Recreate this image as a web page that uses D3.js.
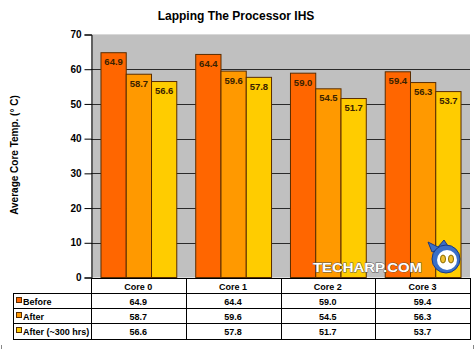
<!DOCTYPE html>
<html><head><meta charset="utf-8">
<script src="https://cdn.jsdelivr.net/npm/d3@7"></script>
<style>body{margin:0;background:#fff}svg{display:block;font-family:"Liberation Sans",Arial,sans-serif}</style>
</head><body>
<svg id="c" width="474" height="349"></svg>
<script>
const categories = ["Core 0", "Core 1", "Core 2", "Core 3"];
const seriesNames = ["Before", "After", "After (~300 hrs)"];
const before = [64.9, 64.4, 59.0, 59.4];
const after = [58.7, 59.6, 54.5, 56.3];
const after300 = [56.6, 57.8, 51.7, 53.7];
const yTicks = [0, 10, 20, 30, 40, 50, 60, 70];
const colors = ["#FF6600", "#FF9900", "#FFCC00"];
const series = [before, after, after300];

const svg = d3.select("#c");
const L = 91, R = 470, T = 34.5, B = 277.5;
const x = d3.scaleBand().domain(categories).range([L, R]).paddingInner(0.2).paddingOuter(0.1);
const xs = d3.scaleBand().domain(seriesNames).range([0, x.bandwidth()]);
const y = d3.scaleLinear().domain([0, 70]).range([B, T]);

// plot background
svg.append("rect").attr("x", L).attr("y", T).attr("width", R - L).attr("height", B - T).attr("fill", "#C0C0C0");
svg.append("line").attr("x1", L).attr("x2", R).attr("y1", T).attr("y2", T).attr("stroke", "#d8d8d8");
// gridlines
svg.append("g").selectAll("line").data(yTicks.filter(t => t > 0 && t < 70)).join("line")
  .attr("x1", L).attr("x2", R).attr("y1", d => Math.round(y(d)) + 0.5).attr("y2", d => Math.round(y(d)) + 0.5)
  .attr("stroke", "#2a2a2a").attr("stroke-width", 1);

// y axis
const yAxis = d3.axisLeft(y).tickValues(yTicks).tickSize(7).tickFormat(d3.format("d"));
const ga = svg.append("g").attr("transform", `translate(${L + 0.5},0)`).call(yAxis);
ga.select(".domain").attr("stroke", "#000");
ga.selectAll(".tick line").attr("stroke", "#000");
ga.selectAll(".tick text").attr("font-size", 10).attr("font-weight", "bold").attr("fill", "#000").attr("x", -10);

// bars
series.forEach((vals, si) => {
  const g = svg.append("g");
  g.selectAll("rect").data(vals).join("rect")
    .attr("x", (d, i) => x(categories[i]) + xs(seriesNames[si]) + 0.5)
    .attr("y", d => y(d) + 0.5)
    .attr("width", xs.bandwidth())
    .attr("height", d => B - y(d) - 0.5)
    .attr("fill", colors[si]).attr("stroke", "#5a2d00").attr("stroke-width", 1);
  g.selectAll("text").data(vals).join("text")
    .attr("x", (d, i) => x(categories[i]) + xs(seriesNames[si]) + xs.bandwidth() / 2 + 0.5)
    .attr("y", d => y(d) + 13)
    .attr("text-anchor", "middle").attr("font-size", 9.5).attr("font-weight", "bold").attr("fill", "#3a2200")
    .text(d => d.toFixed(1));
});

// watermark
const wm = svg.append("g");
wm.append("text").attr("x", 313).attr("y", 272).attr("textLength", 109).attr("lengthAdjust", "spacingAndGlyphs")
  .attr("font-size", 13).attr("font-weight", "bold").attr("fill", "#fff").attr("stroke", "#555").attr("stroke-width", 0.8)
  .attr("paint-order", "stroke").text("TECHARP.COM");
wm.append("path").attr("d", "M432,252 L428,242 L438,247 L444,240 L448,246 Z").attr("fill", "#3a6fc8").attr("stroke", "#1a3a80");
wm.append("circle").attr("cx", 446).attr("cy", 259).attr("r", 14).attr("fill", "#3a6fc8").attr("stroke", "#1a3a80");
wm.append("circle").attr("cx", 447).attr("cy", 260).attr("r", 10).attr("fill", "#fff");
wm.append("ellipse").attr("cx", 443).attr("cy", 259).attr("rx", 2.5).attr("ry", 4).attr("fill", "#f0c030").attr("stroke", "#8a6a00");
wm.append("ellipse").attr("cx", 451).attr("cy", 259).attr("rx", 2.5).attr("ry", 4).attr("fill", "#f0c030").attr("stroke", "#8a6a00");

// table
const rowY = [278, 293, 308, 323, 339];
const tL = 13;
const tg = svg.append("g").attr("stroke", "#000").attr("stroke-width", 1);
tg.append("line").attr("x1", L).attr("x2", R).attr("y1", rowY[0] + 0.5).attr("y2", rowY[0] + 0.5);
rowY.slice(1).forEach(yy => tg.append("line").attr("x1", tL).attr("x2", R).attr("y1", yy + 0.5).attr("y2", yy + 0.5));
tg.append("line").attr("x1", tL + 0.5).attr("x2", tL + 0.5).attr("y1", rowY[1]).attr("y2", rowY[4] + 1);
const bounds = categories.map((c, i) => L + i * x.step()).concat([R]);
bounds.forEach(bx => tg.append("line").attr("x1", Math.round(bx) + 0.5).attr("x2", Math.round(bx) + 0.5).attr("y1", rowY[0]).attr("y2", rowY[4] + 1));

// header
svg.append("g").selectAll("text").data(categories).join("text")
  .attr("x", (d, i) => L + (i + 0.5) * x.step()).attr("y", rowY[0] + 11.5)
  .attr("text-anchor", "middle").attr("font-size", 9).attr("font-weight", "bold").text(d => d);
// rows
series.forEach((vals, si) => {
  const ry = rowY[si + 1];
  svg.append("rect").attr("x", 16.5).attr("y", ry + 4.5).attr("width", 5).attr("height", 5)
    .attr("fill", colors[si]).attr("stroke", "#5a2d00").attr("stroke-width", 1);
  svg.append("text").attr("x", 23).attr("y", ry + 11.5).attr("font-size", 9).attr("font-weight", "bold").text(seriesNames[si]);
  svg.append("g").selectAll("text").data(vals).join("text")
    .attr("x", (d, i) => L + (i + 0.5) * x.step()).attr("y", ry + 11.5)
    .attr("text-anchor", "middle").attr("font-size", 9).attr("font-weight", "bold").text(d => d.toFixed(1));
});

// title
svg.append("text").attr("x", 236).attr("y", 20).attr("text-anchor", "middle")
  .attr("font-size", 12).attr("font-weight", "bold").text("Lapping The Processor IHS");
// y label
svg.append("text").attr("transform", "translate(18,155) rotate(-90)").attr("text-anchor", "middle")
  .attr("font-size", 10).attr("font-weight", "bold").text("Average Core Temp. (° C)");

// outer border fragments
svg.append("line").attr("x1", 1.5).attr("x2", 1.5).attr("y1", 345).attr("y2", 349).attr("stroke", "#888");
svg.append("line").attr("x1", 473.5).attr("x2", 473.5).attr("y1", 345).attr("y2", 349).attr("stroke", "#888");
</script>
</body></html>
